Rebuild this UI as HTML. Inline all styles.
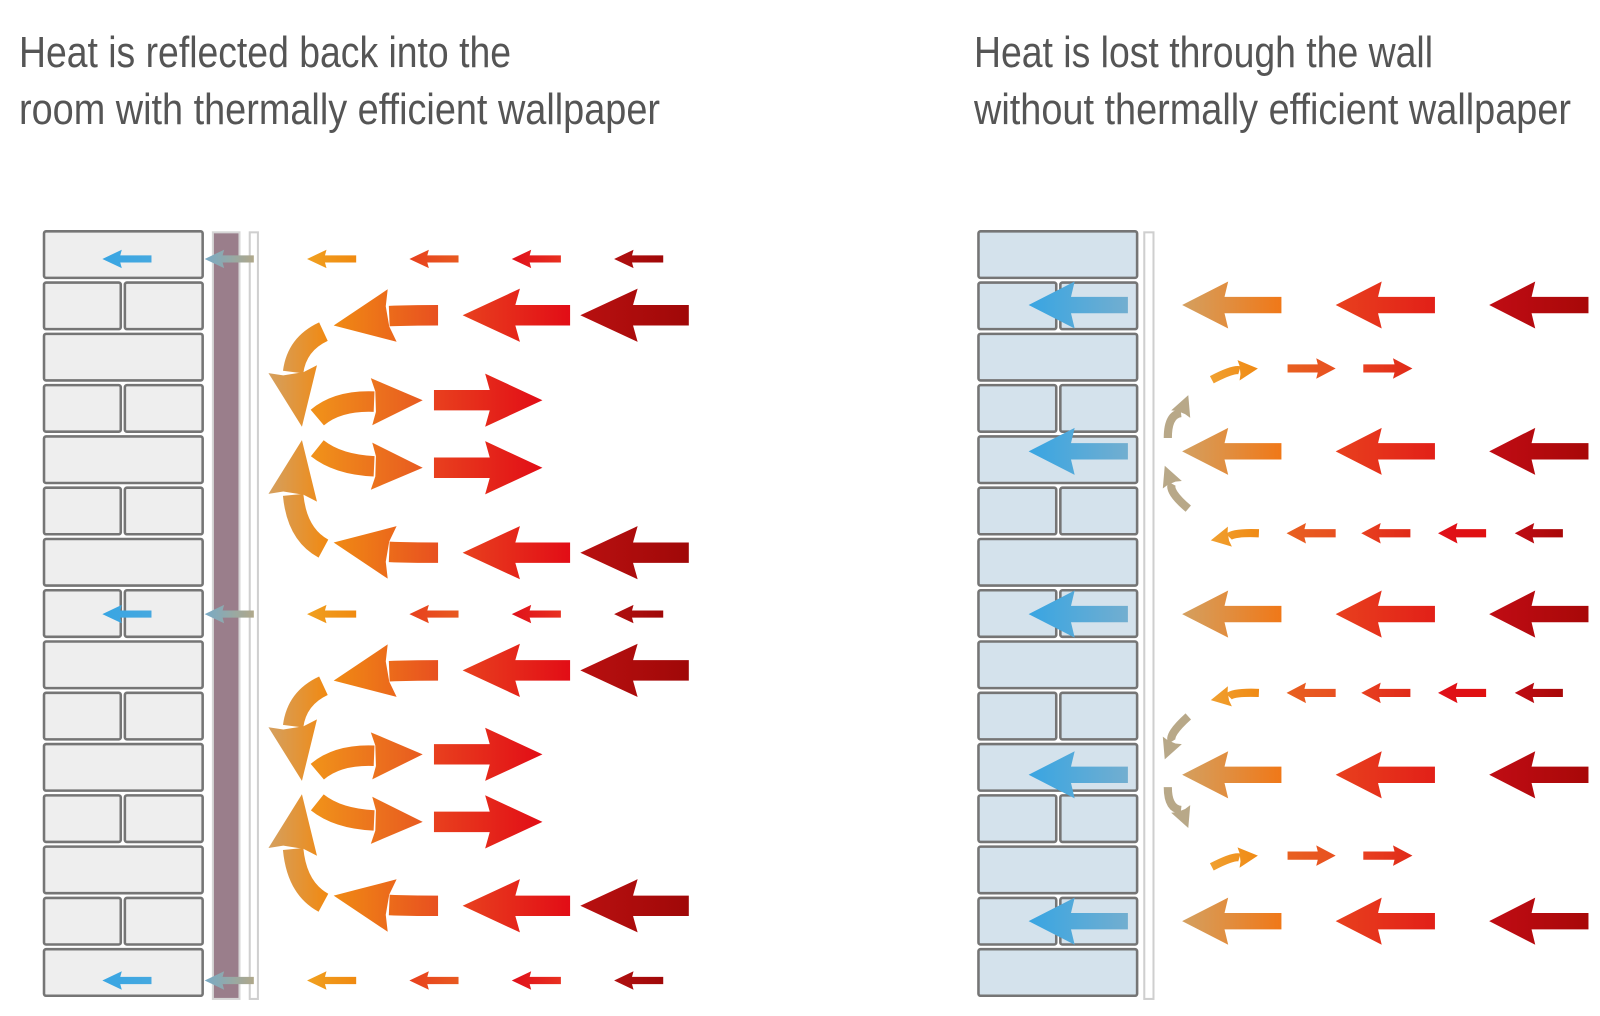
<!DOCTYPE html>
<html><head><meta charset="utf-8"><style>
html,body{margin:0;padding:0;background:#fff;width:1600px;height:1016px;overflow:hidden}
svg{display:block}
text{font-family:"Liberation Sans",sans-serif;fill:#555;font-size:44px}
</style></head><body>
<svg id="s" width="1600" height="1016" viewBox="0 0 1600 1016" xmlns="http://www.w3.org/2000/svg">
<defs id="d"></defs>
<text x="19" y="67" textLength="492" lengthAdjust="spacingAndGlyphs">Heat is reflected back into the</text>
<text x="19" y="124" textLength="641" lengthAdjust="spacingAndGlyphs">room with thermally efficient wallpaper</text>
<text x="974" y="67" textLength="459" lengthAdjust="spacingAndGlyphs">Heat is lost through the wall</text>
<text x="974" y="124" textLength="597" lengthAdjust="spacingAndGlyphs">without thermally efficient wallpaper</text>
<g id="g" transform="scale(1.0235)"></g>
</svg>
<script>
var defs='',body='',gid=0;
function grad(x1,y1,x2,y2,c1,c2){var id='g'+(gid++);defs+='<linearGradient id="'+id+'" gradientUnits="userSpaceOnUse" x1="'+x1+'" y1="'+y1+'" x2="'+x2+'" y2="'+y2+'"><stop offset="0" stop-color="'+c1+'"/><stop offset="1" stop-color="'+c2+'"/></linearGradient>';return 'url(#'+id+')';}
function pts(a){return a.map(function(p){return p[0].toFixed(1)+','+p[1].toFixed(1)}).join(' ');}
function headPts(tx,ty,dx,dy,L,H,h){var bx=-dx,by=-dy,px=-dy,py=dx;
 function P(a,b){return [tx+bx*a+px*b,ty+by*a+py*b];}
 return [P(0,0),P(L,-H),P(L*0.92,-h),P(L*0.92,h),P(L,H)];}
function straight(tx,ty,ex,ey,L,H,h,c1,c2){var dx=tx-ex,dy=ty-ey,n=Math.hypot(dx,dy);dx/=n;dy/=n;
 var f=grad(tx,ty,ex,ey,c1,c2);var px=-dy,py=dx;
 var hp=headPts(tx,ty,dx,dy,L,H,h);
 var a=[hp[0],hp[1],hp[2],[ex-px*h,ey-py*h],[ex+px*h,ey+py*h],hp[3],hp[4]];
 body+='<polygon points="'+pts(a)+'" fill="'+f+'"/>';}
function curve(tx,ty,dx,dy,ex,ey,cx,cy,L,H,h,c1,c2,gx1,gy1,gx2,gy2){var n=Math.hypot(dx,dy);dx/=n;dy/=n;
 var f=(gx1!==undefined)?grad(gx1,gy1,gx2,gy2,c1,c2):grad(tx,ty,ex,ey,c1,c2);
 var bx=tx-dx*L*0.95,by=ty-dy*L*0.95;
 body+='<path d="M'+ex+','+ey+' Q'+cx+','+cy+' '+bx.toFixed(1)+','+by.toFixed(1)+'" fill="none" stroke="'+f+'" stroke-width="'+(2*h)+'"/>';
 body+='<polygon points="'+pts(headPts(tx,ty,dx,dy,L,H,h))+'" fill="'+f+'"/>';}
function rect(x,y,w,hh,fill,st,sw,rx){body+='<rect x="'+x+'" y="'+y+'" width="'+w+'" height="'+hh+'" rx="'+(rx||0)+'" fill="'+fill+'" stroke="'+st+'" stroke-width="'+sw+'"/>';}
function wall(x0,x1,fill,split){for(var i=0;i<15;i++){var y=226+i*50.1;
 if(i%2==0)rect(x0,y,x1-x0,45.5,fill,'#757575',2.5,2);
 else{rect(x0,y,split-x0-2,45.5,fill,'#757575',2.5,2);rect(split+2,y,x1-split-2,45.5,fill,'#757575',2.5,2);}}}
wall(43,198,'#eeeeee',120);
rect(208,227,26,749,'#9a7e8b','#d6d6d6',2);
rect(244,227,8,749,'#ffffff','#cfcfcf',2);
var OR='#f08a14',RD1='#e8401e',RD2='#e20d16',DK1='#b81010',DK2='#a00808',TAN='#d4a060';
[253,600,958].forEach(function(y){
 straight(100,y,148,y,19,9,3.5,'#38a5e2','#45a8e0');
 straight(200,y,248,y,19,9,3.5,'#78aac6','#b0a88a');
 straight(300,y,348,y,19,9,3.5,'#f0a020','#f08a10');
 straight(400,y,448,y,19,9,3.5,'#e8401e','#e85a20');
 straight(500,y,548,y,19,9,3.5,'#e0101a','#e83020');
 straight(600,y,648,y,19,9,3.5,'#b01010','#a00808');
});
[[308,1],[540,-1],[655,1],[885,-1]].forEach(function(r){var y=r[0],s=r[1];
 curve(326,y+10*s,-1,0.17*s,428,y,400,y,58,26,10,OR,'#e85020',326,y,428,y);
 straight(452,y,557,y,56,26,10,RD1,RD2);
 straight(567,y,673,y,56,26,10,DK1,DK2);
});
[424,770].forEach(function(c){
 curve(295,c-7,0.16,1,316,c-100,290,c-88,57,24,10,TAN,OR,262,0,318,0);
 curve(295,c+6,0.16,-1,316,c+112,290,c+98,57,24,10,TAN,OR,262,0,318,0);
 curve(413,c-33,1,-0.03,310,c-16,330,c-33,50,23,10,'#e85a20','#f0901a',413,0,310,0);
 curve(413,c+33,1,0.03,310,c+14,330,c+30,50,23,10,'#e85a20','#f0901a',413,0,310,0);
 straight(530,c-33,424,c-33,56,26,10,RD2,RD1);
 straight(530,c+33,424,c+33,56,26,10,RD2,RD1);
});
wall(956,1111,'#d4e2ec',1034);
rect(1118,227,9,749,'#ffffff','#cfcfcf',2);
[298,441,600,757,900].forEach(function(y){
 straight(1005,y,1102,y,45,23,8,'#38a5e2','#72aed0');
 straight(1155,y,1252,y,45,23,8,TAN,'#f07818');
 straight(1305,y,1402,y,45,23,8,'#e8401e','#e22018');
 straight(1455,y,1552,y,45,23,8,'#c00c14','#a80808');
});
[360,836].forEach(function(y){
 curve(1229,y,1,-0.1,1184,y+11,1205,y,19,10,4,'#f08a14','#f0a030');
 straight(1305,y,1258,y,19,10,4,'#e85020','#e86020');
 straight(1380,y,1332,y,19,10,4,'#e02a18','#e84020');
});
[521,677].forEach(function(y){
 curve(1183,y+7,-1,0.2,1230,y,1205,y-1,19,10,4,'#f0a030','#f08a14');
 straight(1257,y,1305,y,19,10,4,'#e86020','#e85020');
 straight(1330,y,1378,y,19,10,4,'#e84020','#e02a18');
 straight(1405,y,1452,y,19,10,4,'#e0101a','#e01010');
 straight(1480,y,1527,y,19,10,4,'#c00c14','#a80808');
});
var TG='#b8a888';
curve(1161,386,0.4,-1,1141,428,1141,405,20,10,4,TG,TG);
curve(1138,455,-0.4,-1,1161,497,1141,480,20,10,4,TG,TG);
curve(1138,742,-0.4,1,1161,700,1141,718,20,10,4,TG,TG);
curve(1161,809,0.4,1,1141,769,1141,790,20,10,4,TG,TG);
document.getElementById('d').innerHTML=defs;
document.getElementById('g').innerHTML=body;
</script>
</body></html>
